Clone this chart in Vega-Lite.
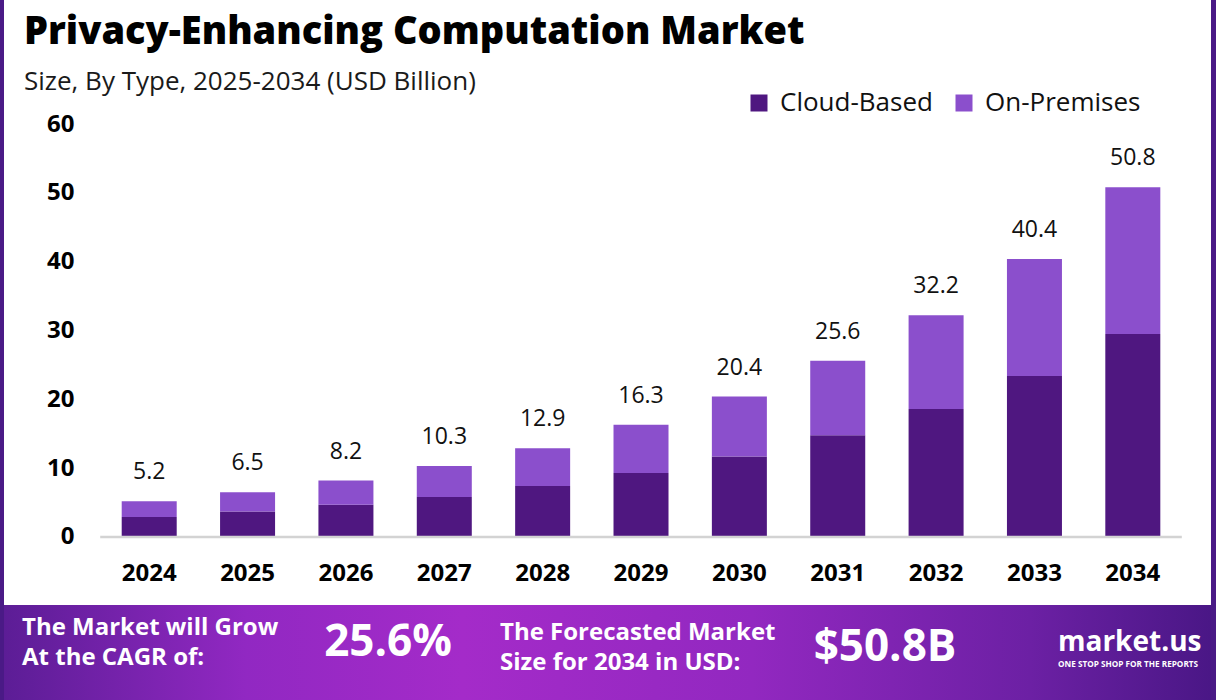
{
  "$schema": "https://vega.github.io/schema/vega-lite/v6.json",
  "description": "Privacy-Enhancing Computation Market, stacked bars by type with a summary banner.",
  "background": "#4a1a86",
  "padding": {"left": 4, "right": 5, "top": 0, "bottom": 0},
  "bounds": "flush",
  "spacing": 0,
  "datasets": {
    "market": [
      {"year": "2024", "type": "Cloud-Based", "value": 2.9},
      {"year": "2024", "type": "On-Premises", "value": 2.3},
      {"year": "2025", "type": "Cloud-Based", "value": 3.7},
      {"year": "2025", "type": "On-Premises", "value": 2.8},
      {"year": "2026", "type": "Cloud-Based", "value": 4.7},
      {"year": "2026", "type": "On-Premises", "value": 3.5},
      {"year": "2027", "type": "Cloud-Based", "value": 5.8},
      {"year": "2027", "type": "On-Premises", "value": 4.5},
      {"year": "2028", "type": "Cloud-Based", "value": 7.4},
      {"year": "2028", "type": "On-Premises", "value": 5.5},
      {"year": "2029", "type": "Cloud-Based", "value": 9.3},
      {"year": "2029", "type": "On-Premises", "value": 7.0},
      {"year": "2030", "type": "Cloud-Based", "value": 11.7},
      {"year": "2030", "type": "On-Premises", "value": 8.7},
      {"year": "2031", "type": "Cloud-Based", "value": 14.8},
      {"year": "2031", "type": "On-Premises", "value": 10.8},
      {"year": "2032", "type": "Cloud-Based", "value": 18.6},
      {"year": "2032", "type": "On-Premises", "value": 13.6},
      {"year": "2033", "type": "Cloud-Based", "value": 23.4},
      {"year": "2033", "type": "On-Premises", "value": 17.0},
      {"year": "2034", "type": "Cloud-Based", "value": 29.5},
      {"year": "2034", "type": "On-Premises", "value": 21.3}
    ],
    "banner": [
      {"block": "grow", "text": "The Market will Grow\nAt the CAGR of:"},
      {"block": "cagr", "text": "25.6%"},
      {"block": "forecast", "text": "The Forecasted Market\nSize for 2034 in USD:"},
      {"block": "size", "text": "$50.8B"},
      {"block": "brand", "text": "market.us"},
      {"block": "tagline", "text": "ONE STOP SHOP FOR THE REPORTS"}
    ]
  },
  "vconcat": [
    {
      "width": 1207,
      "height": 605,
      "view": {"fill": "white", "stroke": null},
      "title": {
        "text": "Privacy-Enhancing Computation Market",
        "subtitle": "Size, By Type, 2025-2034 (USD Billion)",
        "anchor": "start",
        "frame": "group",
        "offset": -95,
        "dx": 20,
        "fontSize": 38,
        "fontWeight": 800,
        "color": "#000000",
        "subtitleFontSize": 26,
        "subtitleColor": "#1a1a1a",
        "subtitlePadding": 17
      },
      "data": {"name": "market"},
      "layer": [
        {
          "mark": {"type": "bar"},
          "encoding": {
            "x": {
              "field": "year",
              "type": "nominal",
              "sort": null,
              "scale": {"paddingInner": 0.4408, "paddingOuter": 0.856, "align": 0.699},
              "axis": {
                "title": null,
                "domain": false,
                "ticks": false,
                "labelAngle": 0,
                "labelFontSize": 24,
                "labelFontWeight": "bold",
                "labelColor": "#000000",
                "labelPadding": 24,
                "offset": -68
              }
            },
            "y": {
              "field": "value",
              "type": "quantitative",
              "stack": "zero",
              "scale": {"domain": [-9.88, 78.02], "nice": false, "zero": false},
              "axis": {
                "title": null,
                "values": [0, 10, 20, 30, 40, 50, 60],
                "domain": false,
                "ticks": false,
                "tickSize": 0,
                "grid": false,
                "labelFontSize": 24,
                "labelFontWeight": "bold",
                "labelColor": "#000000",
                "labelPadding": 26,
                "offset": -96
              }
            },
            "color": {
              "field": "type",
              "type": "nominal",
              "scale": {"domain": ["Cloud-Based", "On-Premises"], "range": ["#4f1780", "#8b4fcc"]},
              "legend": {
                "orient": "none",
                "legendX": 742,
                "legendY": 90,
                "direction": "horizontal",
                "title": null,
                "symbolType": "square",
                "symbolSize": 289,
                "symbolStrokeWidth": 0,
                "symbolOpacity": 1,
                "labelFontSize": 26,
                "labelColor": "#111111",
                "labelOffset": 8,
                "columnPadding": 18
              }
            },
            "order": {"field": "type", "sort": "ascending"}
          }
        },
        {
          "transform": [
            {"aggregate": [{"op": "sum", "field": "value", "as": "total"}], "groupby": ["year"]}
          ],
          "mark": {"type": "text", "dy": -29, "baseline": "middle", "fontSize": 23, "color": "#111111"},
          "encoding": {
            "x": {"field": "year", "type": "nominal", "sort": null},
            "y": {"field": "total", "type": "quantitative"},
            "text": {"field": "total", "type": "quantitative", "format": ".1f"}
          }
        },
        {
          "data": {"values": [{}]},
          "mark": {"type": "rule", "color": "#d3d3d3", "strokeWidth": 2.5, "xOffset": -49, "x2Offset": 49},
          "encoding": {
            "x": {"datum": "2024", "type": "nominal"},
            "x2": {"datum": "2034"},
            "y": {"datum": 0, "type": "quantitative"}
          }
        }
      ]
    },
    {
      "width": 1207,
      "height": 95,
      "view": {"stroke": null},
      "data": {"name": "banner"},
      "encoding": {
        "x": {
          "field": "block",
          "type": "nominal",
          "scale": {
            "type": "point",
            "domain": ["grow", "cagr", "forecast", "size", "brand"],
            "range": [18, 1054],
            "padding": 0
          },
          "axis": null
        }
      },
      "layer": [
        {
          "data": {"values": [{}]},
          "mark": {
            "type": "rect",
            "color": {
              "gradient": "linear",
              "x1": 0, "y1": 0, "x2": 1, "y2": 0,
              "stops": [
                {"offset": 0, "color": "#5c1d96"},
                {"offset": 0.2, "color": "#9128c2"},
                {"offset": 0.38, "color": "#a42bc9"},
                {"offset": 0.62, "color": "#9228c0"},
                {"offset": 0.85, "color": "#6c20a4"},
                {"offset": 1, "color": "#4a1786"}
              ]
            }
          },
          "encoding": {"x": null}
        },
        {
          "transform": [{"filter": "datum.block == 'grow'"}],
          "mark": {"type": "text", "align": "left", "baseline": "middle", "lineBreak": "\n", "lineHeight": 29.5, "fontSize": 24, "fontWeight": "bold", "color": "white", "dy": -24.5},
          "encoding": {"text": {"field": "text"}}
        },
        {
          "transform": [{"filter": "datum.block == 'forecast'"}],
          "mark": {"type": "text", "align": "left", "baseline": "middle", "lineBreak": "\n", "lineHeight": 29.5, "fontSize": 24, "fontWeight": "bold", "color": "white", "dx": -40, "dy": -19.5},
          "encoding": {"text": {"field": "text"}}
        },
        {
          "transform": [{"filter": "datum.block == 'cagr'"}],
          "mark": {"type": "text", "align": "center", "baseline": "middle", "fontSize": 44, "fontWeight": "bold", "color": "white", "dx": 107, "dy": -9.5},
          "encoding": {"text": {"field": "text"}}
        },
        {
          "transform": [{"filter": "datum.block == 'size'"}],
          "mark": {"type": "text", "align": "center", "baseline": "middle", "fontSize": 44, "fontWeight": "bold", "color": "white", "dx": 86, "dy": -4.5},
          "encoding": {"text": {"field": "text"}}
        },
        {
          "transform": [{"filter": "datum.block == 'brand'"}],
          "mark": {"type": "text", "align": "left", "baseline": "middle", "fontSize": 28, "fontWeight": "bold", "color": "white", "dy": -9.5},
          "encoding": {"text": {"field": "text"}}
        },
        {
          "transform": [{"filter": "datum.block == 'tagline'"}, {"calculate": "'brand'", "as": "block"}],
          "mark": {"type": "text", "align": "left", "baseline": "middle", "fontSize": 8.2, "fontWeight": "bold", "color": "white", "dy": 12},
          "encoding": {"text": {"field": "text"}}
        }
      ]
    }
  ],
  "config": {
    "font": "Open Sans",
    "view": {"stroke": null}
  }
}
